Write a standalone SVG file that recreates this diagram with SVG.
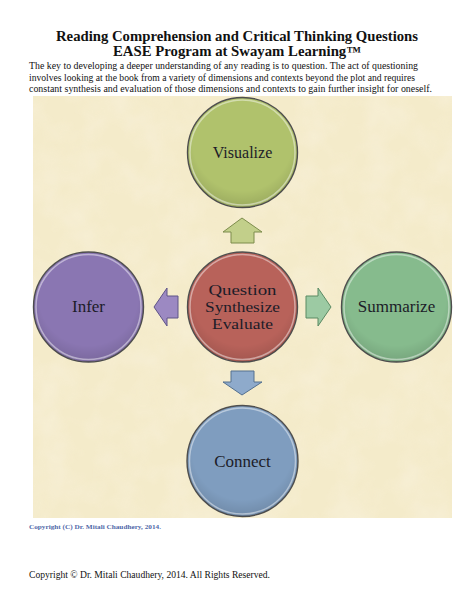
<svg xmlns="http://www.w3.org/2000/svg" width="474" height="613" viewBox="0 0 474 613">
<style>
.title{font-family:"Liberation Serif",serif;font-weight:bold;font-size:14px;fill:#111}
.body{font-family:"Liberation Serif",serif;font-size:10.5px;fill:#111}
.lbl{font-family:"Liberation Serif",serif;font-size:17px;fill:#1c1c28;text-anchor:middle}
.lbl.c{font-size:14.5px}
.lbl.v{font-size:16px}
.node{stroke:#4f4f4f;stroke-width:1.4}
.rim{fill:none;stroke:#ffffff;stroke-opacity:0.45;stroke-width:1.5}
.arr{stroke-width:1;stroke-linejoin:miter}
</style>
<defs>
<filter id="paper" x="0" y="0" width="100%" height="100%">
<feTurbulence type="fractalNoise" baseFrequency="0.03" numOctaves="3" seed="4" result="n"/>
<feColorMatrix in="n" type="matrix" values="0 0 0 0 0.96  0 0 0 0 0.90  0 0 0 0 0.76  0 0 0 1.2 -0.45" result="c"/>
<feComposite in="c" in2="SourceGraphic" operator="in"/>
</filter>
<radialGradient id="shade" cx="50%" cy="40%" r="60%">
<stop offset="0.75" stop-color="#000" stop-opacity="0"/>
<stop offset="1" stop-color="#000" stop-opacity="0.12"/>
</radialGradient>
</defs>
<rect width="474" height="613" fill="#ffffff"/>
<g id="header">
<text class="title" x="237" y="41" text-anchor="middle" textLength="362" lengthAdjust="spacingAndGlyphs">Reading Comprehension and Critical Thinking Questions</text>
<text class="title" x="237" y="56" text-anchor="middle" textLength="248" lengthAdjust="spacingAndGlyphs">EASE Program at Swayam Learning™</text>
<text class="body" x="29" y="69" textLength="389" lengthAdjust="spacingAndGlyphs">The key to developing a deeper understanding of any reading is to question. The act of questioning</text>
<text class="body" x="29" y="81" textLength="386" lengthAdjust="spacingAndGlyphs">involves looking at the book from a variety of dimensions and contexts beyond the plot and requires</text>
<text class="body" x="29" y="92" textLength="403" lengthAdjust="spacingAndGlyphs">constant synthesis and evaluation of those dimensions and contexts to gain further insight for oneself.</text>
</g>
<g id="background">
<rect x="33" y="96" width="419" height="422" fill="#f4ebca"/>
<rect x="33" y="96" width="419" height="422" fill="#f4ebca" filter="url(#paper)" opacity="0.7"/>
</g>
<g id="connectors">
<path class="arr" d="M242,218 L262,232 L254,232 L254,243 L231,243 L231,232 L223,232 Z" fill="#c2cf8a" stroke="#7d8c4c"/>
<path class="arr" d="M154,307 L167,288 L167,296 L178,296 L178,318 L167,318 L167,326 Z" fill="#9c89c2" stroke="#5f5487"/>
<path class="arr" d="M331,307 L318,288 L318,296 L306,296 L306,318 L318,318 L318,326 Z" fill="#9ccaa3" stroke="#5b8a63"/>
<path class="arr" d="M242,395 L262,382 L254,382 L254,371 L231,371 L231,382 L223,382 Z" fill="#8eaacb" stroke="#54708f"/>
</g>
<g id="visualize">
<circle class="node" cx="242.5" cy="152.5" r="55" fill="#b0c26c"/>
<circle cx="242.5" cy="152.5" r="55" fill="url(#shade)"/>
<circle class="rim" cx="242.5" cy="152.5" r="52.5"/>
<text class="lbl v" x="242.5" y="158">Visualize</text>
</g>
<g id="center">
<circle class="node" cx="242.5" cy="307" r="55" fill="#b8625a"/>
<circle cx="242.5" cy="307" r="55" fill="url(#shade)"/>
<circle class="rim" cx="242.5" cy="307" r="52.5"/>
<text class="lbl c" x="242.5" y="295" textLength="68" lengthAdjust="spacingAndGlyphs">Question</text>
<text class="lbl c" x="242.5" y="312" textLength="75" lengthAdjust="spacingAndGlyphs">Synthesize</text>
<text class="lbl c" x="242.5" y="329" textLength="61" lengthAdjust="spacingAndGlyphs">Evaluate</text>
</g>
<g id="infer">
<circle class="node" cx="88.5" cy="307" r="55" fill="#8a76b2"/>
<circle cx="88.5" cy="307" r="55" fill="url(#shade)"/>
<circle class="rim" cx="88.5" cy="307" r="52.5"/>
<text class="lbl" x="88.5" y="312">Infer</text>
</g>
<g id="summarize">
<circle class="node" cx="396.5" cy="307" r="55" fill="#86bb8d"/>
<circle cx="396.5" cy="307" r="55" fill="url(#shade)"/>
<circle class="rim" cx="396.5" cy="307" r="52.5"/>
<text class="lbl" x="396.5" y="312">Summarize</text>
</g>
<g id="connect">
<circle class="node" cx="242.5" cy="461" r="55.5" fill="#7f9dbf"/>
<circle cx="242.5" cy="461" r="55.5" fill="url(#shade)"/>
<circle class="rim" cx="242.5" cy="461" r="53"/>
<text class="lbl" x="242.5" y="467">Connect</text>
</g>
<g id="footer">
<text x="29" y="529" font-family="'Liberation Serif',serif" font-weight="bold" font-size="7px" fill="#5068a8" textLength="132" lengthAdjust="spacingAndGlyphs">Copyright (C) Dr. Mitali Chaudhery, 2014.</text>
<text x="29" y="578" font-family="'Liberation Serif',serif" font-size="10.5px" fill="#111" textLength="241" lengthAdjust="spacingAndGlyphs">Copyright © Dr. Mitali Chaudhery, 2014. All Rights Reserved.</text>
</g>
</svg>
